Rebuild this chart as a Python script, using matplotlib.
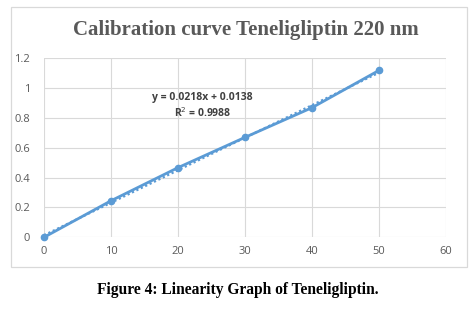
import matplotlib
matplotlib.use("Agg")
import matplotlib.pyplot as plt
from matplotlib.patches import Rectangle
import numpy as np

# Concentration (µg/mL) and absorbance readings
concentration = [0, 10, 20, 30, 40, 50]
absorbance = [0.0, 0.245, 0.467, 0.670, 0.869, 1.119]

# Linear regression reported for the series
slope = 0.0218
intercept = 0.0138
r_squared = 0.9988

x_ticks = [0, 10, 20, 30, 40, 50, 60]
y_ticks = [0, 0.2, 0.4, 0.6, 0.8, 1.0, 1.2]
y_tick_labels = ["0", "0.2", "0.4", "0.6", "0.8", "1", "1.2"]

title = "Calibration curve Teneligliptin 220 nm"
caption = "Figure 4: Linearity Graph of Teneligliptin."

W, H = 474, 323
fig = plt.figure(figsize=(W / 100, H / 100), dpi=100)
fig.patch.set_facecolor("white")

# chart frame
fig.add_artist(Rectangle((10.7 / W, 1 - 267 / H), (467 - 10.7) / W, (267 - 7.3) / H,
                         transform=fig.transFigure, fill=False,
                         edgecolor="#D9D9D9", linewidth=0.9))

left, right = 44 / W, 446 / W
bottom, top = 1 - 237.3 / H, 1 - 58.3 / H
ax = fig.add_axes([left, bottom, right - left, top - bottom])

blue = "#5B9BD5"
grid = "#D9D9D9"
tick_color = "#595959"

ax.set_xlim(0, 60)
ax.set_ylim(0, 1.2)
ax.set_xticks(x_ticks)
ax.set_yticks(y_ticks)
ax.set_yticklabels(y_tick_labels)
ax.grid(True, color=grid, linewidth=0.8)
ax.set_axisbelow(True)
for s in ax.spines.values():
    s.set_visible(False)
ax.tick_params(length=0, labelsize=8, colors=tick_color, pad=6)
ax.tick_params(axis="y", pad=10)
for lab in ax.get_xticklabels() + ax.get_yticklabels():
    lab.set_fontfamily("Open Sans")

# regression trendline (dotted)
xf = np.array([concentration[0], concentration[-1]])
ax.plot(xf, slope * xf + intercept, color=blue, linewidth=1.6,
        linestyle=(0, (1, 1.2)), zorder=2)

# measured series
ax.plot(concentration, absorbance, color=blue, linewidth=2.0, marker="o",
        markersize=4.5, zorder=3, clip_on=False)

ax.text(23.7, 0.934, f"y = {slope}x + {intercept}", ha="center", va="center",
        fontsize=7.5, fontweight="bold", color="#404040", family="Open Sans")
ax.text(23.7, 0.835, f"R$^{{2}}$ = {r_squared}", ha="center", va="center",
        fontsize=7.5, fontweight="bold", color="#404040", family="Open Sans")

fig.text(246 / W, 1 - 30 / H, title, ha="center", va="center",
         fontsize=15, fontweight="bold", color="#595959",
         family="Liberation Serif")

fig.text(238 / W, 1 - 290 / H, caption, ha="center", va="center",
         fontsize=11.2, fontweight="bold", color="black",
         family="Liberation Serif")

fig.savefig("out.png", dpi=100, facecolor="white")
